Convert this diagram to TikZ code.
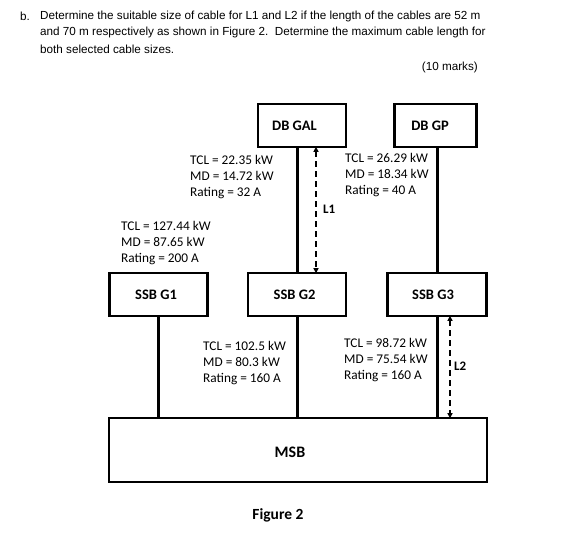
\documentclass[tikz,border=0pt]{standalone}
\usepackage{fontspec}
\setmainfont{Liberation Sans}
\newfontfamily\calib{Carlito}
\usetikzlibrary{arrows.meta}
\begin{document}
\begin{tikzpicture}[x=1pt,y=-1pt,
  box/.style={draw,line width=2.6pt,inner sep=0pt,font=\calib\bfseries\fontsize{14.5}{16}\selectfont},
  feeder/.style={line width=3pt},
  cablearrow/.style={line width=1.8pt,dash pattern=on 6pt off 4pt,{Triangle[length=5pt,width=5pt]}-{Triangle[length=5pt,width=5pt]}},
  info/.style={anchor=north west,align=left,inner sep=0pt,font=\calib\fontsize{13.3}{16.2}\selectfont},
  hdr/.style={anchor=west,inner sep=0pt,font=\fontsize{11.7}{13}\selectfont}]
\useasboundingbox (0,0) rectangle (564,533);
% header
\node[hdr] (hb) at (20,16) {b.};
\node[hdr] (h1) at (40,16) {Determine the suitable size of cable for L1 and L2 if the length of the cables are 52 m};
\node[hdr] (h2) at (40,32.5) {and 70 m respectively as shown in Figure 2.\ \ Determine the maximum cable length for};
\node[hdr] (h3) at (40,49) {both selected cable sizes.};
\node[hdr,anchor=east] (hm) at (478,67) {(10 marks)};
% boxes
\node[box,minimum width=88pt,minimum height=43pt] (dbgal) at (302,125.5) {\hspace*{-15pt}DB GAL};
\node[box,minimum width=82pt,minimum height=43pt] (dbgp) at (435.5,125.5) {\hspace*{-11pt}DB GP};
\node[box,minimum width=98pt,minimum height=43pt] (g1) at (158.5,294.5) {\hspace*{-5pt}SSB G1};
\node[box,minimum width=98pt,minimum height=43pt] (g2) at (297,294.5) {\hspace*{-5pt}\raisebox{-2pt}{SSB G2}};
\node[box,minimum width=99pt,minimum height=43pt] (g3) at (437,294.5) {\hspace*{-8pt}\raisebox{-2pt}{SSB G3}};
\node[box,minimum width=378pt,minimum height=64pt] (msb) at (298,450) {};
\node[font=\calib\bfseries\fontsize{16}{18}\selectfont,inner sep=0pt] (msbtext) at (290,452) {MSB};
% feeders
\draw[feeder] (dbgal.south -| 297.7,0) -- (g2.north -| 297.7,0);
\draw[feeder] (dbgp.south -| 437.7,0) -- (g3.north -| 437.7,0);
\draw[feeder] (g1.south -| 158.3,0) -- (msb.north -| 158.3,0);
\draw[feeder] (g2.south -| 297.7,0) -- (msb.north -| 297.7,0);
\draw[feeder] (g3.south -| 437.7,0) -- (msb.north -| 437.7,0);
% cable length arrows
\coordinate (l1t) at (dbgal.south -| 316,0);
\coordinate (l1b) at (g2.north -| 316,0);
\coordinate (l2t) at (g3.south -| 450,0);
\coordinate (l2b) at (msb.north -| 450,0);
\draw[cablearrow] ([yshift=1.5pt]l1t) -- ([yshift=-1.5pt]l1b);
\draw[cablearrow] ([yshift=1.5pt]l2t) -- ([yshift=-1.5pt]l2b);
\node[font=\calib\bfseries\fontsize{13}{14}\selectfont,anchor=west,inner sep=0pt] (l1lab) at (323,209) {L1};
\node[font=\calib\bfseries\fontsize{13}{14}\selectfont,anchor=west,inner sep=0pt] (l2lab) at (454,366) {L2};
% info texts
\node[info] (i1) at (190,155) {TCL = 22.35 kW\\MD = 14.72 kW\\Rating = 32 A};
\node[info] (i2) at (345,153) {TCL = 26.29 kW\\MD = 18.34 kW\\Rating = 40 A};
\node[info] (i3) at (121,221) {TCL = 127.44 kW\\MD = 87.65 kW\\Rating = 200 A};
\node[info] (i4) at (203,341) {TCL = 102.5 kW\\MD = 80.3 kW\\Rating = 160 A};
\node[info] (i5) at (344,338) {TCL = 98.72 kW\\MD = 75.54 kW\\Rating = 160 A};
% caption
\node[font=\calib\bfseries\fontsize{15.5}{17}\selectfont,inner sep=0pt] (fig) at (278,515) {Figure 2};
\end{tikzpicture}
\end{document}
